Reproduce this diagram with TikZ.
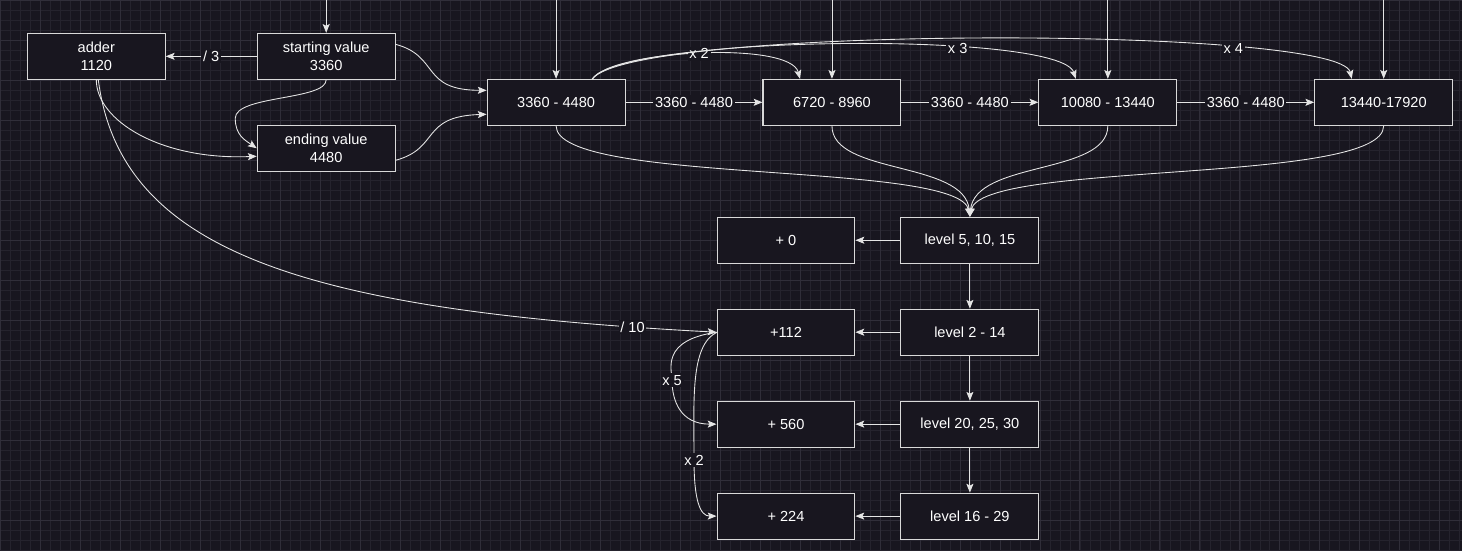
\documentclass[tikz,border=0pt]{standalone}
\usepackage{fontspec}
\setmainfont{Liberation Sans}
\usetikzlibrary{arrows.meta}
\definecolor{bg}{HTML}{18161F}
\definecolor{gridc}{HTML}{25232D}
\definecolor{gridm}{HTML}{302E39}
\begin{document}
\begin{tikzpicture}[x=0.02cm,y=-0.02cm,
  box/.style={draw=white!85!black, fill=bg, text=white, minimum width=2.76cm, minimum height=0.92cm, inner sep=0pt, align=center, font=\fontsize{8.3}{10}\selectfont, line width=0.6pt},
  con/.style={draw=white!90!black, line width=0.5pt, -{Stealth[length=5pt,width=4pt,inset=1pt]}},
  lab/.style={fill=bg, text=white, font=\fontsize{8.3}{10}\selectfont, inner sep=1pt}]
\fill[bg] (0,0) rectangle (1462,550);
\foreach \i in {0,10,...,1460} \draw[gridc, line width=0.3pt] (\i,0) -- (\i,550);
\foreach \i in {0,10,...,550} \draw[gridc, line width=0.3pt] (0,\i) -- (1462,\i);
\foreach \i in {0,40,...,1460} \draw[gridm, line width=0.4pt] (\i,0) -- (\i,550);
\foreach \i in {0,40,...,550} \draw[gridm, line width=0.4pt] (0,\i) -- (1462,\i);
\useasboundingbox (0,0) rectangle (1462,550);

\node[box] (adder) at (96,56) {adder\\1120};
\node[box] (start) at (326,56) {starting value\\3360};
\node[box] (end) at (326,148) {ending value\\4480};
\node[box] (a) at (556,102) {3360 - 4480};
\node[box] (b) at (832,102) {6720 - 8960};
\node[box] (c) at (1108,102) {10080 - 13440};
\node[box] (d) at (1384,102) {13440-17920};
\node[box] (l1) at (970,240) {level 5, 10, 15};
\node[box] (p0) at (786,240) {+ 0};
\node[box] (l2) at (970,332) {level 2 - 14};
\node[box] (p112) at (786,332) {+112};
\node[box] (l3) at (970,424) {level 20, 25, 30};
\node[box] (p560) at (786,424) {+ 560};
\node[box] (l4) at (970,516) {level 16 - 29};
\node[box] (p224) at (786,516) {+ 224};

\coordinate (ts) at (326,0);
\coordinate (ta) at (556,0);
\coordinate (tb) at (832,0);
\coordinate (tc) at (1108,0);
\coordinate (td) at (1384,0);
\draw[con] (ts) -- (start);
\draw[con] (ta) -- (a);
\draw[con] (tb) -- (b);
\draw[con] (tc) -- (c);
\draw[con] (td) -- (d);

\draw[con] (start) -- node[lab] {/ 3} (adder);
\draw[con] (start.south) .. controls (326,100) and (235,95) .. (235,118) .. controls (235,135) and (245,140) .. (end.west);
\draw[con] (adder.south) .. controls (96,120) and (160,160) .. ([yshift=-0.16cm]end.west);
\draw[con] ([yshift=0.24cm]start.east) .. controls (440,56) and (420,90) .. ([yshift=0.24cm]a.west);
\draw[con] ([yshift=-0.24cm]end.east) .. controls (440,148) and (420,116) .. ([yshift=-0.24cm]a.west);

\draw[con] (a) -- node[lab] {3360 - 4480} (b);
\draw[con] (b) -- node[lab] {3360 - 4480} (c);
\draw[con] (c) -- node[lab] {3360 - 4480} (d);

\coordinate (a2) at (592,79);
\draw[con] (a2) .. controls (610,50) and (790,40) .. node[lab, pos=0.5] {x 2} ([xshift=-0.64cm]b.north);
\draw[con] (a2) .. controls (620,35) and (1060,30) .. node[lab, pos=0.68] {x 3} ([xshift=-0.64cm]c.north);
\draw[con] (a2) .. controls (630,25) and (1340,25) .. node[lab, pos=0.75] {x 4} ([xshift=-0.64cm]d.north);

\draw[con] (a.south) .. controls (556,185) and (960,160) .. (l1.north);
\draw[con] (b.south) .. controls (832,175) and (965,160) .. (l1.north);
\draw[con] (c.south) .. controls (1108,175) and (975,160) .. (l1.north);
\draw[con] (d.south) .. controls (1384,185) and (980,160) .. (l1.north);

\draw[con] (l1) -- (p0);
\draw[con] (l2) -- (p112);
\draw[con] (l3) -- (p560);
\draw[con] (l4) -- (p224);
\draw[con] (l1) -- (l2);
\draw[con] (l2) -- (l3);
\draw[con] (l3) -- (l4);

\draw[con] ([xshift=0.04cm]adder.south) .. controls (120,250) and (300,310) .. node[lab, pos=0.93] {/ 10} (p112.west);
\coordinate (p1) at (717,332);
\draw[con] (p1) .. controls (660,340) and (672,370) .. (672,380) node[lab] {x 5} .. controls (672,400) and (680,424) .. (p560.west);
\draw[con] (p1) .. controls (690,345) and (694,400) .. (694,460) node[lab] {x 2} .. controls (694,500) and (700,516) .. (p224.west);
\end{tikzpicture}
\end{document}
